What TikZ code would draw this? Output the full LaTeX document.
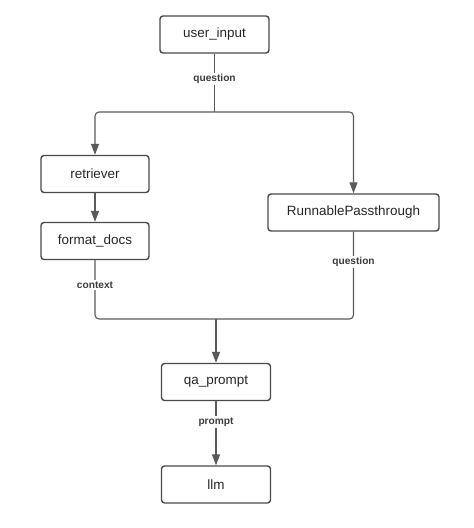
\documentclass[tikz,border=0pt]{standalone}
\usepackage{fontspec}
\setmainfont{Liberation Sans}
\usetikzlibrary{arrows.meta}
\definecolor{boxline}{HTML}{4A4A4A}
\definecolor{conn}{HTML}{5A5A5A}
\definecolor{lbl}{HTML}{3C3C3C}
\begin{document}
\begin{tikzpicture}[x=1bp,y=-1bp,
  box/.style={draw=boxline,line width=1.4bp,rounded corners=3bp,minimum height=37bp,inner sep=0pt,font=\fontsize{13.5}{15}\selectfont,text=black!85},
  link/.style={draw=conn,line width=1.1bp,rounded corners=4bp},
  arr/.style={link,-{Triangle[length=11bp,width=8bp]}},
  lab/.style={fill=white,inner sep=1.5bp,font=\bfseries\fontsize{10.2}{11}\selectfont,text=lbl}]
\useasboundingbox (0,0) rectangle (474,528);
\node[box,minimum width=109bp] (ui) at (214.5,34.5) {user\_input};
\node[box,minimum width=108bp] (ret) at (95,174) {retriever};
\node[box,minimum width=108bp] (fd) at (95,241) {format\_docs};
\node[box,minimum width=171bp] (rp) at (353.5,212.5) {RunnablePassthrough};
\node[box,minimum width=109bp] (qa) at (216,382) {qa\_prompt};
\node[box,minimum width=109bp] (llm) at (216,484.5) {llm};
\coordinate (j1) at (214.5,112);
\coordinate (j2) at (216,319);
\draw[link] (ui.south) -- (j1);
\draw[arr] (j1) -| (ret.north);
\draw[arr] (j1) -| (rp.north);
\draw[arr] (ret) -- (fd);
\draw[link] (fd.south) |- (j2);
\draw[link] (rp.south) |- (j2);
\draw[arr] (j2) -- (qa.north);
\draw[arr] (qa) -- (llm);
\node[lab] at (214.5,79) {question};
\node[lab] at (95,285) {context};
\node[lab] at (353.5,262) {question};
\node[lab] at (216,422) {prompt};
\end{tikzpicture}
\end{document}
